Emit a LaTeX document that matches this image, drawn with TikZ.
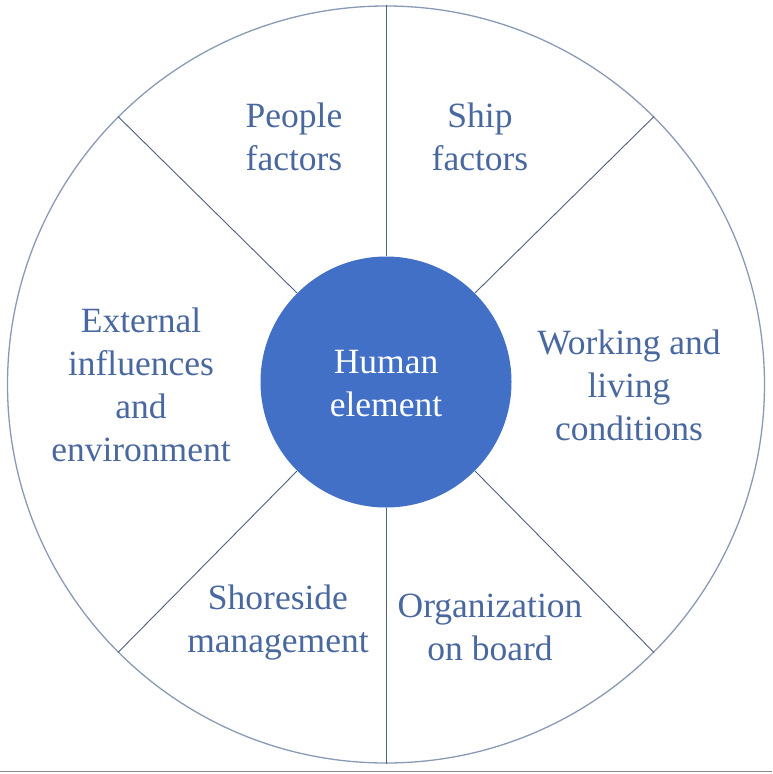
\documentclass[tikz,border=0pt]{standalone}
\usepackage{fontspec}
\setmainfont{Liberation Serif}
\definecolor{txtblue}{HTML}{4A68A0}
\definecolor{rimcol}{HTML}{8A9AB5}
\definecolor{spokecol}{HTML}{4F5F7E}
\definecolor{hubfill}{HTML}{4170C6}
\definecolor{basecol}{HTML}{8C8C8C}
\begin{document}
\begin{tikzpicture}[x=1pt,y=-1pt,
  lbl/.style={text=txtblue, align=center, inner sep=0pt, font=\fontsize{35.5}{43}\selectfont},
  spoke/.style={draw=spokecol, line width=0.9pt},
]
\useasboundingbox (0,0) rectangle (772,774);
\fill[white] (0,0) rectangle (772,774);
\node[circle, draw=rimcol, line width=1.3pt, minimum size=757pt, inner sep=0pt] (rim) at (386,384.5) {};
\node[circle, fill=hubfill, minimum size=251pt, inner sep=0pt] (hub) at (386,382) {};
\foreach \a in {90,45,135,225,270,315}{
  \draw[spoke] (hub.\a) -- (rim.\a);
}
\node[text=white, align=center, inner sep=0pt, font=\fontsize{35.5}{43}\selectfont] (hubtxt) at (386,384) {Human\\element};
\node[lbl] (people) at (294,137) {People\\factors};
\node[lbl] (ship) at (480,137) {Ship\\factors};
\node[lbl] (ext) at (141,385) {External\\influences\\and\\environment};
\node[lbl] (work) at (629,385) {Working and\\living\\conditions};
\node[lbl] (shore) at (278,623) {Shoreside\\management};
\node[lbl] (org) at (490,627) {Organization\\on board};
\coordinate (bl) at (0,771.5);
\coordinate (br) at (772,771.5);
\draw[basecol, line width=1.8pt] (bl) -- (br);
\end{tikzpicture}
\end{document}
